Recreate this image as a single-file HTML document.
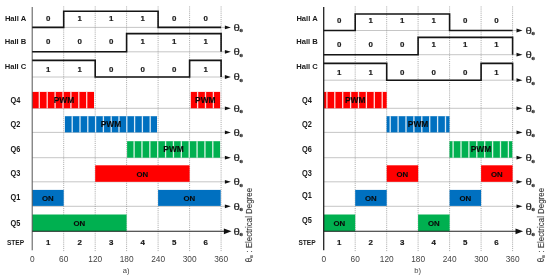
<!DOCTYPE html>
<html><head><meta charset="utf-8"><title>Hall sensor commutation</title>
<style>
html,body{margin:0;padding:0;background:#fff}
svg{display:block;filter:blur(0.35px)}
text{font-family:"Liberation Sans", sans-serif}
.hg{stroke:#b8b8b8;stroke-width:0.8}
.vg{stroke:#999;stroke-width:0.8;stroke-dasharray:1.1 1}
.wave{fill:none;stroke:#151515;stroke-width:1.6;stroke-linejoin:miter}
.lb{font-weight:bold;text-anchor:middle;fill:#1a1a1a}
.dg{font-weight:bold;font-size:7.9px;text-anchor:middle;fill:#1a1a1a;stroke:#1a1a1a;stroke-width:0.2px}
.bt{font-weight:bold;font-size:8.4px;text-anchor:middle;fill:#0a0a0a;stroke:#0a0a0a;stroke-width:0.12px}
.on{font-size:7.8px}
.ax{font-size:8.3px;text-anchor:middle;fill:#444}
.cap{font-size:7.6px;text-anchor:middle;fill:#444}
.th{font-size:9.3px;fill:#222;stroke:#222;stroke-width:0.2px}
.sub{font-size:6.1px;fill:#222;stroke:#222;stroke-width:0.3px}
.rot{font-size:9.3px;fill:#3c3c3c;stroke:#3c3c3c;stroke-width:0.15px}
.rsub{font-size:6.2px}
</style></head><body>
<svg width="550" height="279" viewBox="0 0 550 279">
<rect width="550" height="279" fill="#fff"/>
<line x1="32.2" y1="27.4" x2="225.1" y2="27.4" class="hg"/>
<line x1="32.2" y1="51.8" x2="225.1" y2="51.8" class="hg"/>
<line x1="32.2" y1="77.0" x2="225.1" y2="77.0" class="hg"/>
<line x1="32.2" y1="108.3" x2="225.1" y2="108.3" class="hg"/>
<line x1="32.2" y1="132.4" x2="225.1" y2="132.4" class="hg"/>
<line x1="32.2" y1="157.7" x2="225.1" y2="157.7" class="hg"/>
<line x1="32.2" y1="181.8" x2="225.1" y2="181.8" class="hg"/>
<line x1="32.2" y1="206.3" x2="225.1" y2="206.3" class="hg"/>
<line x1="63.7" y1="6.4" x2="63.7" y2="251.2" class="vg"/>
<line x1="95.2" y1="6.4" x2="95.2" y2="251.2" class="vg"/>
<line x1="126.6" y1="6.4" x2="126.6" y2="251.2" class="vg"/>
<line x1="158.1" y1="6.4" x2="158.1" y2="251.2" class="vg"/>
<line x1="189.6" y1="6.4" x2="189.6" y2="251.2" class="vg"/>
<line x1="221.1" y1="6.4" x2="221.1" y2="251.2" class="vg"/>
<rect x="32.2" y="91.9" width="61.8" height="16.4" fill="#ff0000"/>
<rect x="38.65" y="91.9" width="1.3" height="16.4" fill="#fff" fill-opacity="0.85"/>
<rect x="46.55" y="91.9" width="1.3" height="16.4" fill="#fff" fill-opacity="0.85"/>
<rect x="54.45" y="91.9" width="1.3" height="16.4" fill="#fff" fill-opacity="0.85"/>
<rect x="62.35" y="91.9" width="1.3" height="16.4" fill="#fff" fill-opacity="0.85"/>
<rect x="70.25" y="91.9" width="1.3" height="16.4" fill="#fff" fill-opacity="0.85"/>
<rect x="78.15" y="91.9" width="1.3" height="16.4" fill="#fff" fill-opacity="0.85"/>
<rect x="86.05" y="91.9" width="1.3" height="16.4" fill="#fff" fill-opacity="0.85"/>
<text x="64.0" y="103.0" class="bt">PWM</text>
<rect x="190.8" y="91.9" width="29.3" height="16.4" fill="#ff0000"/>
<rect x="196.95" y="91.9" width="1.3" height="16.4" fill="#fff" fill-opacity="0.85"/>
<rect x="204.85" y="91.9" width="1.3" height="16.4" fill="#fff" fill-opacity="0.85"/>
<rect x="212.75" y="91.9" width="1.3" height="16.4" fill="#fff" fill-opacity="0.85"/>
<text x="205.3" y="103.0" class="bt">PWM</text>
<rect x="64.9" y="116.2" width="92.1" height="16.2" fill="#0070c0"/>
<rect x="71.55" y="116.2" width="1.3" height="16.2" fill="#fff" fill-opacity="0.85"/>
<rect x="79.35" y="116.2" width="1.3" height="16.2" fill="#fff" fill-opacity="0.85"/>
<rect x="87.15" y="116.2" width="1.3" height="16.2" fill="#fff" fill-opacity="0.85"/>
<rect x="94.95" y="116.2" width="1.3" height="16.2" fill="#fff" fill-opacity="0.85"/>
<rect x="102.75" y="116.2" width="1.3" height="16.2" fill="#fff" fill-opacity="0.85"/>
<rect x="110.55" y="116.2" width="1.3" height="16.2" fill="#fff" fill-opacity="0.85"/>
<rect x="118.35" y="116.2" width="1.3" height="16.2" fill="#fff" fill-opacity="0.85"/>
<rect x="126.15" y="116.2" width="1.3" height="16.2" fill="#fff" fill-opacity="0.85"/>
<rect x="133.95" y="116.2" width="1.3" height="16.2" fill="#fff" fill-opacity="0.85"/>
<rect x="141.75" y="116.2" width="1.3" height="16.2" fill="#fff" fill-opacity="0.85"/>
<rect x="149.55" y="116.2" width="1.3" height="16.2" fill="#fff" fill-opacity="0.85"/>
<text x="111.0" y="127.2" class="bt">PWM</text>
<rect x="127.1" y="141.2" width="93.0" height="16.5" fill="#00b050"/>
<rect x="133.45" y="141.2" width="1.3" height="16.5" fill="#fff" fill-opacity="0.85"/>
<rect x="141.32" y="141.2" width="1.3" height="16.5" fill="#fff" fill-opacity="0.85"/>
<rect x="149.19" y="141.2" width="1.3" height="16.5" fill="#fff" fill-opacity="0.85"/>
<rect x="157.06" y="141.2" width="1.3" height="16.5" fill="#fff" fill-opacity="0.85"/>
<rect x="164.93" y="141.2" width="1.3" height="16.5" fill="#fff" fill-opacity="0.85"/>
<rect x="172.80" y="141.2" width="1.3" height="16.5" fill="#fff" fill-opacity="0.85"/>
<rect x="180.67" y="141.2" width="1.3" height="16.5" fill="#fff" fill-opacity="0.85"/>
<rect x="188.54" y="141.2" width="1.3" height="16.5" fill="#fff" fill-opacity="0.85"/>
<rect x="196.41" y="141.2" width="1.3" height="16.5" fill="#fff" fill-opacity="0.85"/>
<rect x="204.28" y="141.2" width="1.3" height="16.5" fill="#fff" fill-opacity="0.85"/>
<rect x="212.15" y="141.2" width="1.3" height="16.5" fill="#fff" fill-opacity="0.85"/>
<text x="173.6" y="152.3" class="bt">PWM</text>
<rect x="95.2" y="165.3" width="94.4" height="16.5" fill="#ff0000"/>
<text x="142.4" y="176.5" class="bt on">ON</text>
<rect x="32.2" y="189.9" width="31.5" height="16.0" fill="#0070c0"/>
<text x="47.9" y="200.8" class="bt on">ON</text>
<rect x="158.1" y="189.9" width="62.6" height="16.0" fill="#0070c0"/>
<text x="189.4" y="200.8" class="bt on">ON</text>
<rect x="32.2" y="214.5" width="94.4" height="16.9" fill="#00b050"/>
<text x="79.4" y="225.8" class="bt on">ON</text>
<line x1="32.2" y1="7" x2="32.2" y2="250.3" stroke="#555" stroke-width="1.0"/>
<line x1="32.2" y1="231.3" x2="225.1" y2="231.3" stroke="#222" stroke-width="1.1"/>
<path d="M32.2 27.4 L63.7 27.4 L63.7 11.3 L158.1 11.3 L158.1 27.4 L221.1 27.4" class="wave"/>
<text x="48.2" y="20.7" class="dg">0</text>
<text x="79.7" y="20.7" class="dg">1</text>
<text x="111.2" y="20.7" class="dg">1</text>
<text x="142.7" y="20.7" class="dg">1</text>
<text x="174.2" y="20.7" class="dg">0</text>
<text x="205.6" y="20.7" class="dg">0</text>
<path d="M32.2 51.8 L126.6 51.8 L126.6 33.6 L221.1 33.6 L221.1 51.8" class="wave"/>
<text x="48.2" y="43.9" class="dg">0</text>
<text x="79.7" y="43.9" class="dg">0</text>
<text x="111.2" y="43.9" class="dg">0</text>
<text x="142.7" y="43.9" class="dg">1</text>
<text x="174.2" y="43.9" class="dg">1</text>
<text x="205.6" y="43.9" class="dg">1</text>
<path d="M32.2 60.4 L95.2 60.4 L95.2 77.0 L189.6 77.0 L189.6 60.4 L221.1 60.4 L221.1 77.0" class="wave"/>
<text x="48.2" y="72.2" class="dg">1</text>
<text x="79.7" y="72.2" class="dg">1</text>
<text x="111.2" y="72.2" class="dg">0</text>
<text x="142.7" y="72.2" class="dg">0</text>
<text x="174.2" y="72.2" class="dg">0</text>
<text x="205.6" y="72.2" class="dg">1</text>
<path d="M230.9 27.4 l-6 -1.9 v3.8z" fill="#111"/>
<text transform="translate(233.5 30.6) scale(1.22 1)" class="th">θ</text><text x="239.4" y="32.2" class="sub">e</text>
<path d="M230.9 51.8 l-6 -1.9 v3.8z" fill="#111"/>
<text transform="translate(233.5 55.0) scale(1.22 1)" class="th">θ</text><text x="239.4" y="56.6" class="sub">e</text>
<path d="M230.9 77.0 l-6 -1.9 v3.8z" fill="#111"/>
<text transform="translate(233.5 80.2) scale(1.22 1)" class="th">θ</text><text x="239.4" y="81.8" class="sub">e</text>
<path d="M230.9 108.3 l-6 -1.9 v3.8z" fill="#111"/>
<text transform="translate(233.5 111.5) scale(1.22 1)" class="th">θ</text><text x="239.4" y="113.1" class="sub">e</text>
<path d="M230.9 132.4 l-6 -1.9 v3.8z" fill="#111"/>
<text transform="translate(233.5 135.6) scale(1.22 1)" class="th">θ</text><text x="239.4" y="137.2" class="sub">e</text>
<path d="M230.9 157.7 l-6 -1.9 v3.8z" fill="#111"/>
<text transform="translate(233.5 160.9) scale(1.22 1)" class="th">θ</text><text x="239.4" y="162.5" class="sub">e</text>
<path d="M230.9 181.8 l-6 -1.9 v3.8z" fill="#111"/>
<text transform="translate(233.5 185.0) scale(1.22 1)" class="th">θ</text><text x="239.4" y="186.6" class="sub">e</text>
<path d="M230.9 206.3 l-6 -1.9 v3.8z" fill="#111"/>
<text transform="translate(233.5 209.5) scale(1.22 1)" class="th">θ</text><text x="239.4" y="211.1" class="sub">e</text>
<path d="M231.5 231.3 l-7.6 -2.9 v5.8z" fill="#111"/>
<text transform="translate(233.5 234.5) scale(1.22 1)" class="th">θ</text><text x="239.4" y="236.1" class="sub">e</text>
<text transform="translate(15.5 20.9) scale(1 1)" class="lb" font-size="7.6">Hall A</text>
<text transform="translate(15.5 44.0) scale(1 1)" class="lb" font-size="7.6">Hall B</text>
<text transform="translate(15.5 69.2) scale(1 1)" class="lb" font-size="7.6">Hall C</text>
<text transform="translate(15.5 102.8) scale(0.9 1)" class="lb" font-size="8.2">Q4</text>
<text transform="translate(15.5 126.9) scale(0.9 1)" class="lb" font-size="8.2">Q2</text>
<text transform="translate(15.5 152.0) scale(0.9 1)" class="lb" font-size="8.2">Q6</text>
<text transform="translate(15.5 176.1) scale(0.9 1)" class="lb" font-size="8.2">Q3</text>
<text transform="translate(15.5 200.2) scale(0.9 1)" class="lb" font-size="8.2">Q1</text>
<text transform="translate(15.5 225.8) scale(0.9 1)" class="lb" font-size="8.2">Q5</text>
<text transform="translate(15.5 245.1) scale(0.87 1)" class="lb" font-size="7.6">STEP</text>
<text x="48.2" y="244.9" class="dg">1</text>
<text x="79.7" y="244.9" class="dg">2</text>
<text x="111.2" y="244.9" class="dg">3</text>
<text x="142.7" y="244.9" class="dg">4</text>
<text x="174.2" y="244.9" class="dg">5</text>
<text x="205.6" y="244.9" class="dg">6</text>
<text x="32.2" y="261.6" class="ax">0</text>
<text x="63.7" y="261.6" class="ax">60</text>
<text x="95.2" y="261.6" class="ax">120</text>
<text x="126.6" y="261.6" class="ax">180</text>
<text x="158.1" y="261.6" class="ax">240</text>
<text x="189.6" y="261.6" class="ax">300</text>
<text x="221.1" y="261.6" class="ax">360</text>
<text x="126.1" y="273.2" class="cap">a)</text>
<text transform="translate(252.0 262.3) rotate(-90) scale(0.855 1)" class="rot">θ<tspan class="rsub" dy="1.3">e</tspan><tspan dy="-1.3"> : Electrical Degree</tspan></text>
<line x1="323.7" y1="30.5" x2="516.6" y2="30.5" class="hg"/>
<line x1="323.7" y1="54.7" x2="516.6" y2="54.7" class="hg"/>
<line x1="323.7" y1="80.2" x2="516.6" y2="80.2" class="hg"/>
<line x1="323.7" y1="108.3" x2="516.6" y2="108.3" class="hg"/>
<line x1="323.7" y1="132.4" x2="516.6" y2="132.4" class="hg"/>
<line x1="323.7" y1="157.7" x2="516.6" y2="157.7" class="hg"/>
<line x1="323.7" y1="181.8" x2="516.6" y2="181.8" class="hg"/>
<line x1="323.7" y1="206.3" x2="516.6" y2="206.3" class="hg"/>
<line x1="355.2" y1="6.4" x2="355.2" y2="251.2" class="vg"/>
<line x1="386.7" y1="6.4" x2="386.7" y2="251.2" class="vg"/>
<line x1="418.1" y1="6.4" x2="418.1" y2="251.2" class="vg"/>
<line x1="449.6" y1="6.4" x2="449.6" y2="251.2" class="vg"/>
<line x1="481.1" y1="6.4" x2="481.1" y2="251.2" class="vg"/>
<line x1="512.6" y1="6.4" x2="512.6" y2="251.2" class="vg"/>
<rect x="323.7" y="91.9" width="63.0" height="16.4" fill="#ff0000"/>
<rect x="326.25" y="91.9" width="1.3" height="16.4" fill="#fff" fill-opacity="0.85"/>
<rect x="334.15" y="91.9" width="1.3" height="16.4" fill="#fff" fill-opacity="0.85"/>
<rect x="342.05" y="91.9" width="1.3" height="16.4" fill="#fff" fill-opacity="0.85"/>
<rect x="349.95" y="91.9" width="1.3" height="16.4" fill="#fff" fill-opacity="0.85"/>
<rect x="357.85" y="91.9" width="1.3" height="16.4" fill="#fff" fill-opacity="0.85"/>
<rect x="365.75" y="91.9" width="1.3" height="16.4" fill="#fff" fill-opacity="0.85"/>
<rect x="373.65" y="91.9" width="1.3" height="16.4" fill="#fff" fill-opacity="0.85"/>
<rect x="381.55" y="91.9" width="1.3" height="16.4" fill="#fff" fill-opacity="0.85"/>
<text x="355.2" y="103.0" class="bt">PWM</text>
<rect x="386.6" y="116.2" width="62.9" height="16.2" fill="#0070c0"/>
<rect x="389.55" y="116.2" width="1.3" height="16.2" fill="#fff" fill-opacity="0.85"/>
<rect x="397.45" y="116.2" width="1.3" height="16.2" fill="#fff" fill-opacity="0.85"/>
<rect x="405.35" y="116.2" width="1.3" height="16.2" fill="#fff" fill-opacity="0.85"/>
<rect x="413.25" y="116.2" width="1.3" height="16.2" fill="#fff" fill-opacity="0.85"/>
<rect x="421.15" y="116.2" width="1.3" height="16.2" fill="#fff" fill-opacity="0.85"/>
<rect x="429.05" y="116.2" width="1.3" height="16.2" fill="#fff" fill-opacity="0.85"/>
<rect x="436.95" y="116.2" width="1.3" height="16.2" fill="#fff" fill-opacity="0.85"/>
<rect x="444.85" y="116.2" width="1.3" height="16.2" fill="#fff" fill-opacity="0.85"/>
<text x="418.1" y="127.2" class="bt">PWM</text>
<rect x="449.5" y="141.2" width="62.8" height="16.5" fill="#00b050"/>
<rect x="452.45" y="141.2" width="1.3" height="16.5" fill="#fff" fill-opacity="0.85"/>
<rect x="460.35" y="141.2" width="1.3" height="16.5" fill="#fff" fill-opacity="0.85"/>
<rect x="468.25" y="141.2" width="1.3" height="16.5" fill="#fff" fill-opacity="0.85"/>
<rect x="476.15" y="141.2" width="1.3" height="16.5" fill="#fff" fill-opacity="0.85"/>
<rect x="484.05" y="141.2" width="1.3" height="16.5" fill="#fff" fill-opacity="0.85"/>
<rect x="491.95" y="141.2" width="1.3" height="16.5" fill="#fff" fill-opacity="0.85"/>
<rect x="499.85" y="141.2" width="1.3" height="16.5" fill="#fff" fill-opacity="0.85"/>
<rect x="507.75" y="141.2" width="1.3" height="16.5" fill="#fff" fill-opacity="0.85"/>
<text x="480.9" y="152.3" class="bt">PWM</text>
<rect x="386.7" y="165.3" width="31.5" height="16.5" fill="#ff0000"/>
<text x="402.4" y="176.5" class="bt on">ON</text>
<rect x="481.1" y="165.3" width="31.5" height="16.5" fill="#ff0000"/>
<text x="496.8" y="176.5" class="bt on">ON</text>
<rect x="355.2" y="189.9" width="31.5" height="16.0" fill="#0070c0"/>
<text x="370.9" y="200.8" class="bt on">ON</text>
<rect x="449.6" y="189.9" width="31.5" height="16.0" fill="#0070c0"/>
<text x="465.4" y="200.8" class="bt on">ON</text>
<rect x="323.7" y="214.5" width="31.5" height="16.9" fill="#00b050"/>
<text x="339.4" y="225.8" class="bt on">ON</text>
<rect x="418.1" y="214.5" width="31.5" height="16.9" fill="#00b050"/>
<text x="433.9" y="225.8" class="bt on">ON</text>
<line x1="323.7" y1="7" x2="323.7" y2="250.3" stroke="#222" stroke-width="1.3"/>
<line x1="323.7" y1="231.3" x2="516.6" y2="231.3" stroke="#222" stroke-width="1.1"/>
<path d="M323.7 30.5 L355.2 30.5 L355.2 14.0 L449.6 14.0 L449.6 30.5 L512.6 30.5" class="wave"/>
<text x="339.1" y="23.4" class="dg">0</text>
<text x="370.6" y="23.4" class="dg">1</text>
<text x="402.1" y="23.4" class="dg">1</text>
<text x="433.6" y="23.4" class="dg">1</text>
<text x="465.1" y="23.4" class="dg">0</text>
<text x="496.5" y="23.4" class="dg">0</text>
<path d="M323.7 54.7 L418.1 54.7 L418.1 37.4 L512.6 37.4 L512.6 54.7" class="wave"/>
<text x="339.1" y="46.9" class="dg">0</text>
<text x="370.6" y="46.9" class="dg">0</text>
<text x="402.1" y="46.9" class="dg">0</text>
<text x="433.6" y="46.9" class="dg">1</text>
<text x="465.1" y="46.9" class="dg">1</text>
<text x="496.5" y="46.9" class="dg">1</text>
<path d="M323.7 63.4 L386.7 63.4 L386.7 80.2 L481.1 80.2 L481.1 63.4 L512.6 63.4 L512.6 80.2" class="wave"/>
<text x="339.1" y="75.4" class="dg">1</text>
<text x="370.6" y="75.4" class="dg">1</text>
<text x="402.1" y="75.4" class="dg">0</text>
<text x="433.6" y="75.4" class="dg">0</text>
<text x="465.1" y="75.4" class="dg">0</text>
<text x="496.5" y="75.4" class="dg">1</text>
<path d="M522.5 30.5 l-6 -1.9 v3.8z" fill="#111"/>
<text transform="translate(525.6 33.7) scale(1.22 1)" class="th">θ</text><text x="531.5" y="35.3" class="sub">e</text>
<path d="M522.5 54.7 l-6 -1.9 v3.8z" fill="#111"/>
<text transform="translate(525.6 57.9) scale(1.22 1)" class="th">θ</text><text x="531.5" y="59.5" class="sub">e</text>
<path d="M522.5 80.2 l-6 -1.9 v3.8z" fill="#111"/>
<text transform="translate(525.6 83.4) scale(1.22 1)" class="th">θ</text><text x="531.5" y="85.0" class="sub">e</text>
<path d="M522.5 108.3 l-6 -1.9 v3.8z" fill="#111"/>
<text transform="translate(525.6 111.5) scale(1.22 1)" class="th">θ</text><text x="531.5" y="113.1" class="sub">e</text>
<path d="M522.5 132.4 l-6 -1.9 v3.8z" fill="#111"/>
<text transform="translate(525.6 135.6) scale(1.22 1)" class="th">θ</text><text x="531.5" y="137.2" class="sub">e</text>
<path d="M522.5 157.7 l-6 -1.9 v3.8z" fill="#111"/>
<text transform="translate(525.6 160.9) scale(1.22 1)" class="th">θ</text><text x="531.5" y="162.5" class="sub">e</text>
<path d="M522.5 181.8 l-6 -1.9 v3.8z" fill="#111"/>
<text transform="translate(525.6 185.0) scale(1.22 1)" class="th">θ</text><text x="531.5" y="186.6" class="sub">e</text>
<path d="M522.5 206.3 l-6 -1.9 v3.8z" fill="#111"/>
<text transform="translate(525.6 209.5) scale(1.22 1)" class="th">θ</text><text x="531.5" y="211.1" class="sub">e</text>
<path d="M523.1 231.3 l-7.6 -2.9 v5.8z" fill="#111"/>
<text transform="translate(525.6 234.5) scale(1.22 1)" class="th">θ</text><text x="531.5" y="236.1" class="sub">e</text>
<text transform="translate(307.0 20.9) scale(1 1)" class="lb" font-size="7.6">Hall A</text>
<text transform="translate(307.0 44.0) scale(1 1)" class="lb" font-size="7.6">Hall B</text>
<text transform="translate(307.0 69.2) scale(1 1)" class="lb" font-size="7.6">Hall C</text>
<text transform="translate(307.0 102.8) scale(0.9 1)" class="lb" font-size="8.2">Q4</text>
<text transform="translate(307.0 126.9) scale(0.9 1)" class="lb" font-size="8.2">Q2</text>
<text transform="translate(307.0 152.0) scale(0.9 1)" class="lb" font-size="8.2">Q6</text>
<text transform="translate(307.0 176.1) scale(0.9 1)" class="lb" font-size="8.2">Q3</text>
<text transform="translate(307.0 197.9) scale(0.9 1)" class="lb" font-size="8.2">Q1</text>
<text transform="translate(307.0 222.9) scale(0.9 1)" class="lb" font-size="8.2">Q5</text>
<text transform="translate(307.0 245.1) scale(0.87 1)" class="lb" font-size="7.6">STEP</text>
<text x="339.1" y="244.9" class="dg">1</text>
<text x="370.6" y="244.9" class="dg">2</text>
<text x="402.1" y="244.9" class="dg">3</text>
<text x="433.6" y="244.9" class="dg">4</text>
<text x="465.1" y="244.9" class="dg">5</text>
<text x="496.5" y="244.9" class="dg">6</text>
<text x="323.7" y="261.6" class="ax">0</text>
<text x="355.2" y="261.6" class="ax">60</text>
<text x="386.7" y="261.6" class="ax">120</text>
<text x="418.1" y="261.6" class="ax">180</text>
<text x="449.6" y="261.6" class="ax">240</text>
<text x="481.1" y="261.6" class="ax">300</text>
<text x="512.6" y="261.6" class="ax">360</text>
<text x="417.6" y="273.2" class="cap">b)</text>
<text transform="translate(543.5 262.3) rotate(-90) scale(0.855 1)" class="rot">θ<tspan class="rsub" dy="1.3">e</tspan><tspan dy="-1.3"> : Electrical Degree</tspan></text>
</svg>
</body></html>
